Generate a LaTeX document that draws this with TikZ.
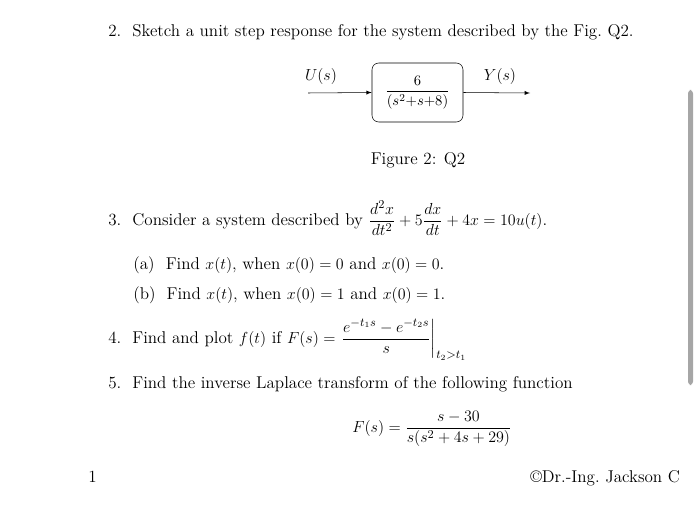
\documentclass[tikz,border=0pt]{standalone}
\usepackage{amsmath}
\begin{document}
\begin{tikzpicture}[x=0.75pt,y=-0.75pt,
  txt/.style={anchor=base west,inner sep=0pt,font=\fontsize{12.8}{15}\selectfont},
  blk/.style={draw,rounded corners=5pt,minimum width=68.25pt,minimum height=44.25pt,inner sep=0pt,font=\fontsize{11}{13}\selectfont},
  sig/.style={inner sep=0pt,font=\fontsize{11.5}{13}\selectfont},
  arr/.style={-latex,thin}]
\useasboundingbox (0,0) rectangle (700,517);
\clip (0,0) rectangle (700,517);
\node[txt] (q2) at (108,37) {2.\ \ Sketch a unit step response for the system described by the Fig.\ Q2.};
\coordinate (in) at (308,93);
\coordinate (out) at (530,93);
\node[blk] (g) at (417.5,92.5) {$\dfrac{6}{(s^2{+}s{+}8)}$};
\node[sig] (u) at (321,77) {$U(s)$};
\node[sig] (y) at (500,77) {$Y(s)$};
\draw[arr] (in) -- (g.west);
\draw[arr] (g.east) -- (out);
\node[txt,anchor=base] (cap) at (418,165) {Figure 2: Q2};
\node[txt] (q3) at (108,225) {3.\ \ Consider a system described by $\dfrac{d^2x}{dt^2}+5\dfrac{dx}{dt}+4x=10u(t)$.};
\node[txt] (qa) at (133,269) {(a)\ \ Find $x(t)$, when $x(0)=0$ and $x(0)=0$.};
\node[txt] (qb) at (133,299) {(b)\ \ Find $x(t)$, when $x(0)=1$ and $x(0)=1$.};
\node[txt] (q4) at (108,343) {4.\ \ Find and plot $f(t)$ if $F(s)=\left.\dfrac{e^{-t_1s}-e^{-t_2s}}{s}\right|_{t_2>t_1}$};
\node[txt] (q5) at (108,388) {5.\ \ Find the inverse Laplace transform of the following function};
\node[txt] (f5) at (352,432) {$F(s)=\dfrac{s-30}{s(s^2+4s+29)}$};
\node[txt] (pg) at (88,482) {1};
\node[txt] (cr) at (530,482) {\textcopyright Dr.-Ing.\ Jackson C};
\fill[gray!70,rounded corners=2.5pt] (688,90) rectangle (693,385);
\end{tikzpicture}
\end{document}
